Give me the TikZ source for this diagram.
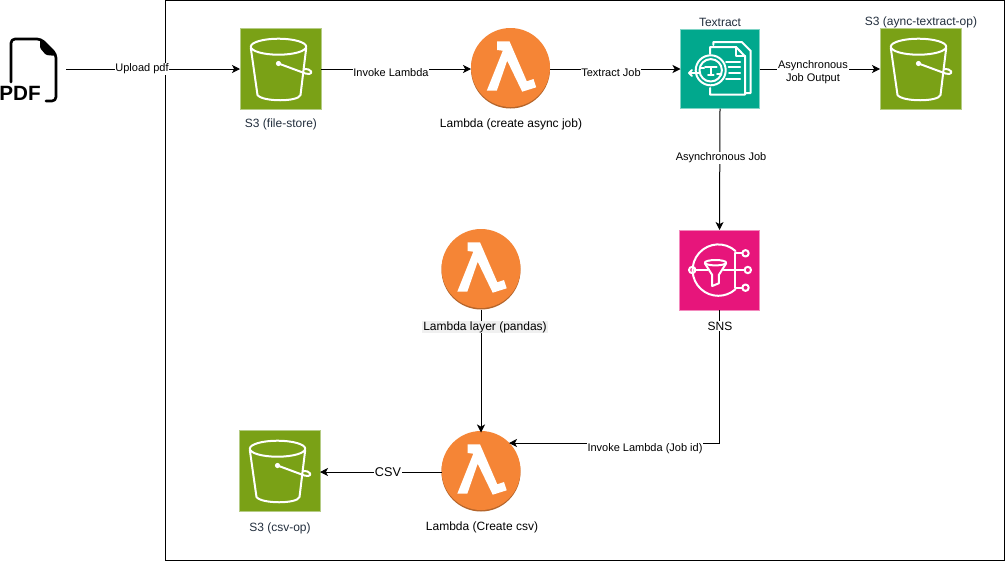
\documentclass[tikz,border=0pt]{standalone}
\usepackage{fontspec}
\setmainfont{Liberation Sans}
\usetikzlibrary{arrows.meta}
\definecolor{s3green}{HTML}{7AA116}
\definecolor{s3edge}{HTML}{B5CC85}
\definecolor{lamorange}{HTML}{F58536}
\definecolor{lamshadow}{HTML}{B5652B}
\definecolor{txgreen}{HTML}{01A88D}
\definecolor{txedge}{HTML}{80D4C6}
\definecolor{snspink}{HTML}{E7157B}
\definecolor{snsedge}{HTML}{F38ABD}
\definecolor{awstext}{HTML}{232F3E}
\definecolor{layerbg}{HTML}{F0F0F0}
\tikzset{
  x=0.75pt,y=-0.75pt,
  conn/.style={draw=black,line width=0.75pt,-{Stealth[length=6pt,width=6pt,inset=1.6pt]}},
  iconbox/.style={rectangle,minimum size=#1*0.75pt,inner sep=0pt,outer sep=0pt},
  s3box/.style={iconbox=81,fill=s3green,draw=s3edge,line width=0.5pt},
  txbox/.style={iconbox=79,fill=txgreen,draw=txedge,line width=0.5pt},
  snsbox/.style={iconbox=80,fill=snspink,draw=snsedge,line width=0.5pt},
  lambox/.style={circle,minimum size=79*0.75pt,inner sep=0pt,outer sep=0pt,fill=lamshadow},
  wline/.style={draw=white,line width=1.5pt,line join=round,line cap=round},
  edgelabel/.style={fill=white,inner sep=0.6pt,font=\fontsize{8.25}{10}\selectfont,align=center,text=black},
  awslabel/.style={inner sep=0.5pt,font=\fontsize{9}{11}\selectfont,text=awstext},
  lamlabel/.style={inner sep=0.5pt,font=\fontsize{9}{11}\selectfont,text=black},
  bucket/.pic={
    \draw[wline] (-2,-22.3) ellipse [x radius=27.7,y radius=8];
    \draw[wline] (-29.7,-21) -- (-23,26) .. controls (-18,33) and (18,33) .. (20,26) -- (25.7,-21);
    \fill[white] (-2,-5.5) circle (2.6);
    \draw[wline] (-2,-5.5) -- (25,4.5) .. controls (31,6.5) and (33,2.5) .. (28,0.5) .. controls (26,0) and (25,0) .. (24,0);
  },
  lambdaglyph/.pic={
    \fill[lamorange] (0,-1.5) circle (39.5);
    \fill[white] (-13.3,-27.7) -- (-1,-27.7) -- (16.3,12.3) -- (23,10) -- (25.7,18.3) -- (11.7,22.7)
      -- (-3.3,-8.3) -- (-13.7,21.7) -- (-23.7,21.7) -- (-7.7,-18.3) -- (-13.3,-19) -- cycle;
  },
  textracticon/.pic={
    \draw[wline] (-6.7,-24) -- (-6.7,-27) -- (21.7,-27) -- (30.7,-18) -- (30.7,24) -- (26,24);
    \draw[wline] (-10,-15) -- (-10,-22) -- (16,-22) -- (25,-12.7) -- (25,25.7) -- (-10,25.7) -- (-10,19);
    \draw[wline] (16,-22) -- (16,-12.7) -- (25,-12.7);
    \draw[wline] (-9.3,1.3) circle (15);
    \draw[wline] (-9.3,1.3) circle (11.2);
    \draw[wline] (6,-7) -- (20,-7);
    \draw[wline] (8.5,-1.7) -- (20,-1.7);
    \draw[wline] (9,4) -- (20,4);
    \draw[wline] (6,9.7) -- (20,9.7);
    \draw[wline] (-20,4) -- (-31,4);
    \draw[wline] (-28,1) -- (-31,4) -- (-28,7);
    \draw[wline] (-15,-2) -- (-3.5,-2);
    \draw[wline] (-9.3,-2) -- (-9.3,6);
    \draw[wline] (-12,6) -- (-6.5,6);
    \draw[wline] (-20,-1) -- (-16,-1);
    \draw[wline] (-3,5) -- (1,5);
  },
  snsicon/.pic={
    \draw[wline] (16,-19) arc[start angle=-48,end angle=-312,radius=25.7];
    \draw[wline] (-27.3,0) circle (3.2);
    \draw[wline] (26,-16.7) circle (3.2);
    \draw[wline] (28.3,0) circle (3.2);
    \draw[wline] (26,17.7) circle (3.2);
    \draw[wline] (-4,-7.3) ellipse [x radius=10.7,y radius=2.7];
    \draw[wline] (-14.7,-6.7) -- (-7.3,5) -- (-7.3,16) -- (-0.7,13.3) -- (-0.7,5) -- (6.7,-6.7);
    \draw[wline] (-24,0) -- (-12,0);
    \draw[wline] (4,0) -- (25,0);
    \draw[wline] (23,-16.7) -- (15,-16.7) -- (15,17.7) -- (23,17.7);
  },
  pdfglyph/.pic={
    \draw[line width=2pt,line join=round,line cap=round,rounded corners=3pt]
      (-18,13) -- (-18,-30) -- (12,-30) -- (27,-15) -- (27,32) -- (17,32);
    \fill[black,rounded corners=1pt] (11,-31) -- (11,-21) -- (17,-14) -- (28,-13) -- cycle;
  },
}
\begin{document}
\begin{tikzpicture}
\useasboundingbox (0,0) rectangle (1006,561);
\fill[white] (0,0) rectangle (1006,561);
\coordinate (frameA) at (165.5,0.5);
\coordinate (frameB) at (1004.5,560);
\draw[black,line width=0.75pt] (frameA) rectangle (frameB);

% shapes
\node[rectangle,minimum width=58*0.75pt,minimum height=64*0.75pt,inner sep=0pt,outer sep=0pt] (pdfbox) at (29,69) {};
\node[s3box] (s3file) at (280.5,69) {};
\node[lambox] (lamjob) at (510.5,69) {};
\node[txbox] (textract) at (720,69) {};
\node[s3box] (s3out) at (920.5,69) {};
\node[snsbox] (sns) at (719.5,270) {};
\node[lambox] (lamlayer) at (481,270) {};
\node[lambox] (lamcsv) at (481,472) {};
\node[s3box] (s3csv) at (279.5,471) {};

% icons
\pic at (s3file.center) {bucket};
\pic at (s3out.center) {bucket};
\pic at (s3csv.center) {bucket};
\pic at (lamjob.center) {lambdaglyph};
\pic at (lamlayer.center) {lambdaglyph};
\pic at (lamcsv.center) {lambdaglyph};
\pic at (textract.center) {textracticon};
\pic at (sns.center) {snsicon};
\node[fill=white,inner sep=0.5pt,font=\bfseries\fontsize{15.5}{16}\selectfont] (pdftext) at (20,93) {PDF};
\pic at (pdfbox.center) {pdfglyph};

% connectors
\coordinate (pdfout) at ([xshift=8*0.75pt]pdfbox.east);
\draw[conn] (pdfout) -- (s3file.west);
\draw[conn] (s3file.east) -- (lamjob.west);
\draw[conn] (lamjob.east) -- (textract.west);
\draw[conn] (textract.east) -- (s3out.west);
\draw[conn] (textract.south) -- (sns.north);
\coordinate (bend) at (sns.south |- 0,443);
\coordinate (lamhit) at (509,443);
\draw[conn] (sns.south) -- (bend) -- (lamhit);
\draw[conn] (lamlayer.south) -- (lamcsv.north);
\draw[conn] (lamcsv.west) -- (s3csv.east |- lamcsv.west);

% connector labels
\node[edgelabel] (l1) at (142,69) {Upload pdf};
\node[edgelabel] (l2) at (391,73) {Invoke Lambda};
\node[edgelabel] (l3) at (611,73) {Textract Job};
\node[edgelabel] (l4) at (813,72) {Asynchronous\\Job Output};
\node[edgelabel] (l5) at (721,158) {Asynchronous Job};
\node[edgelabel] (l6) at (645,449) {Invoke Lambda (Job id)};
\node[edgelabel,font=\fontsize{9.5}{11}\selectfont] (l7) at (388,472) {CSV};

% shape labels
\node[awslabel] (t1) at (281,124) {S3 (file-store)};
\node[lamlabel] (t2) at (511,124) {Lambda (create async job)};
\node[awslabel] (t3) at (720,22) {Textract};
\node[awslabel] (t4) at (921,22) {S3 (aync-textract-op)};
\node[lamlabel,fill=white] (t5) at (720,326) {SNS};
\node[lamlabel,fill=layerbg,inner xsep=1pt] (t6) at (485,327) {Lambda layer (pandas)};
\node[awslabel] (t7) at (280,528) {S3 (csv-op)};
\node[lamlabel] (t8) at (482,527) {Lambda (Create csv)};
\end{tikzpicture}
\end{document}
